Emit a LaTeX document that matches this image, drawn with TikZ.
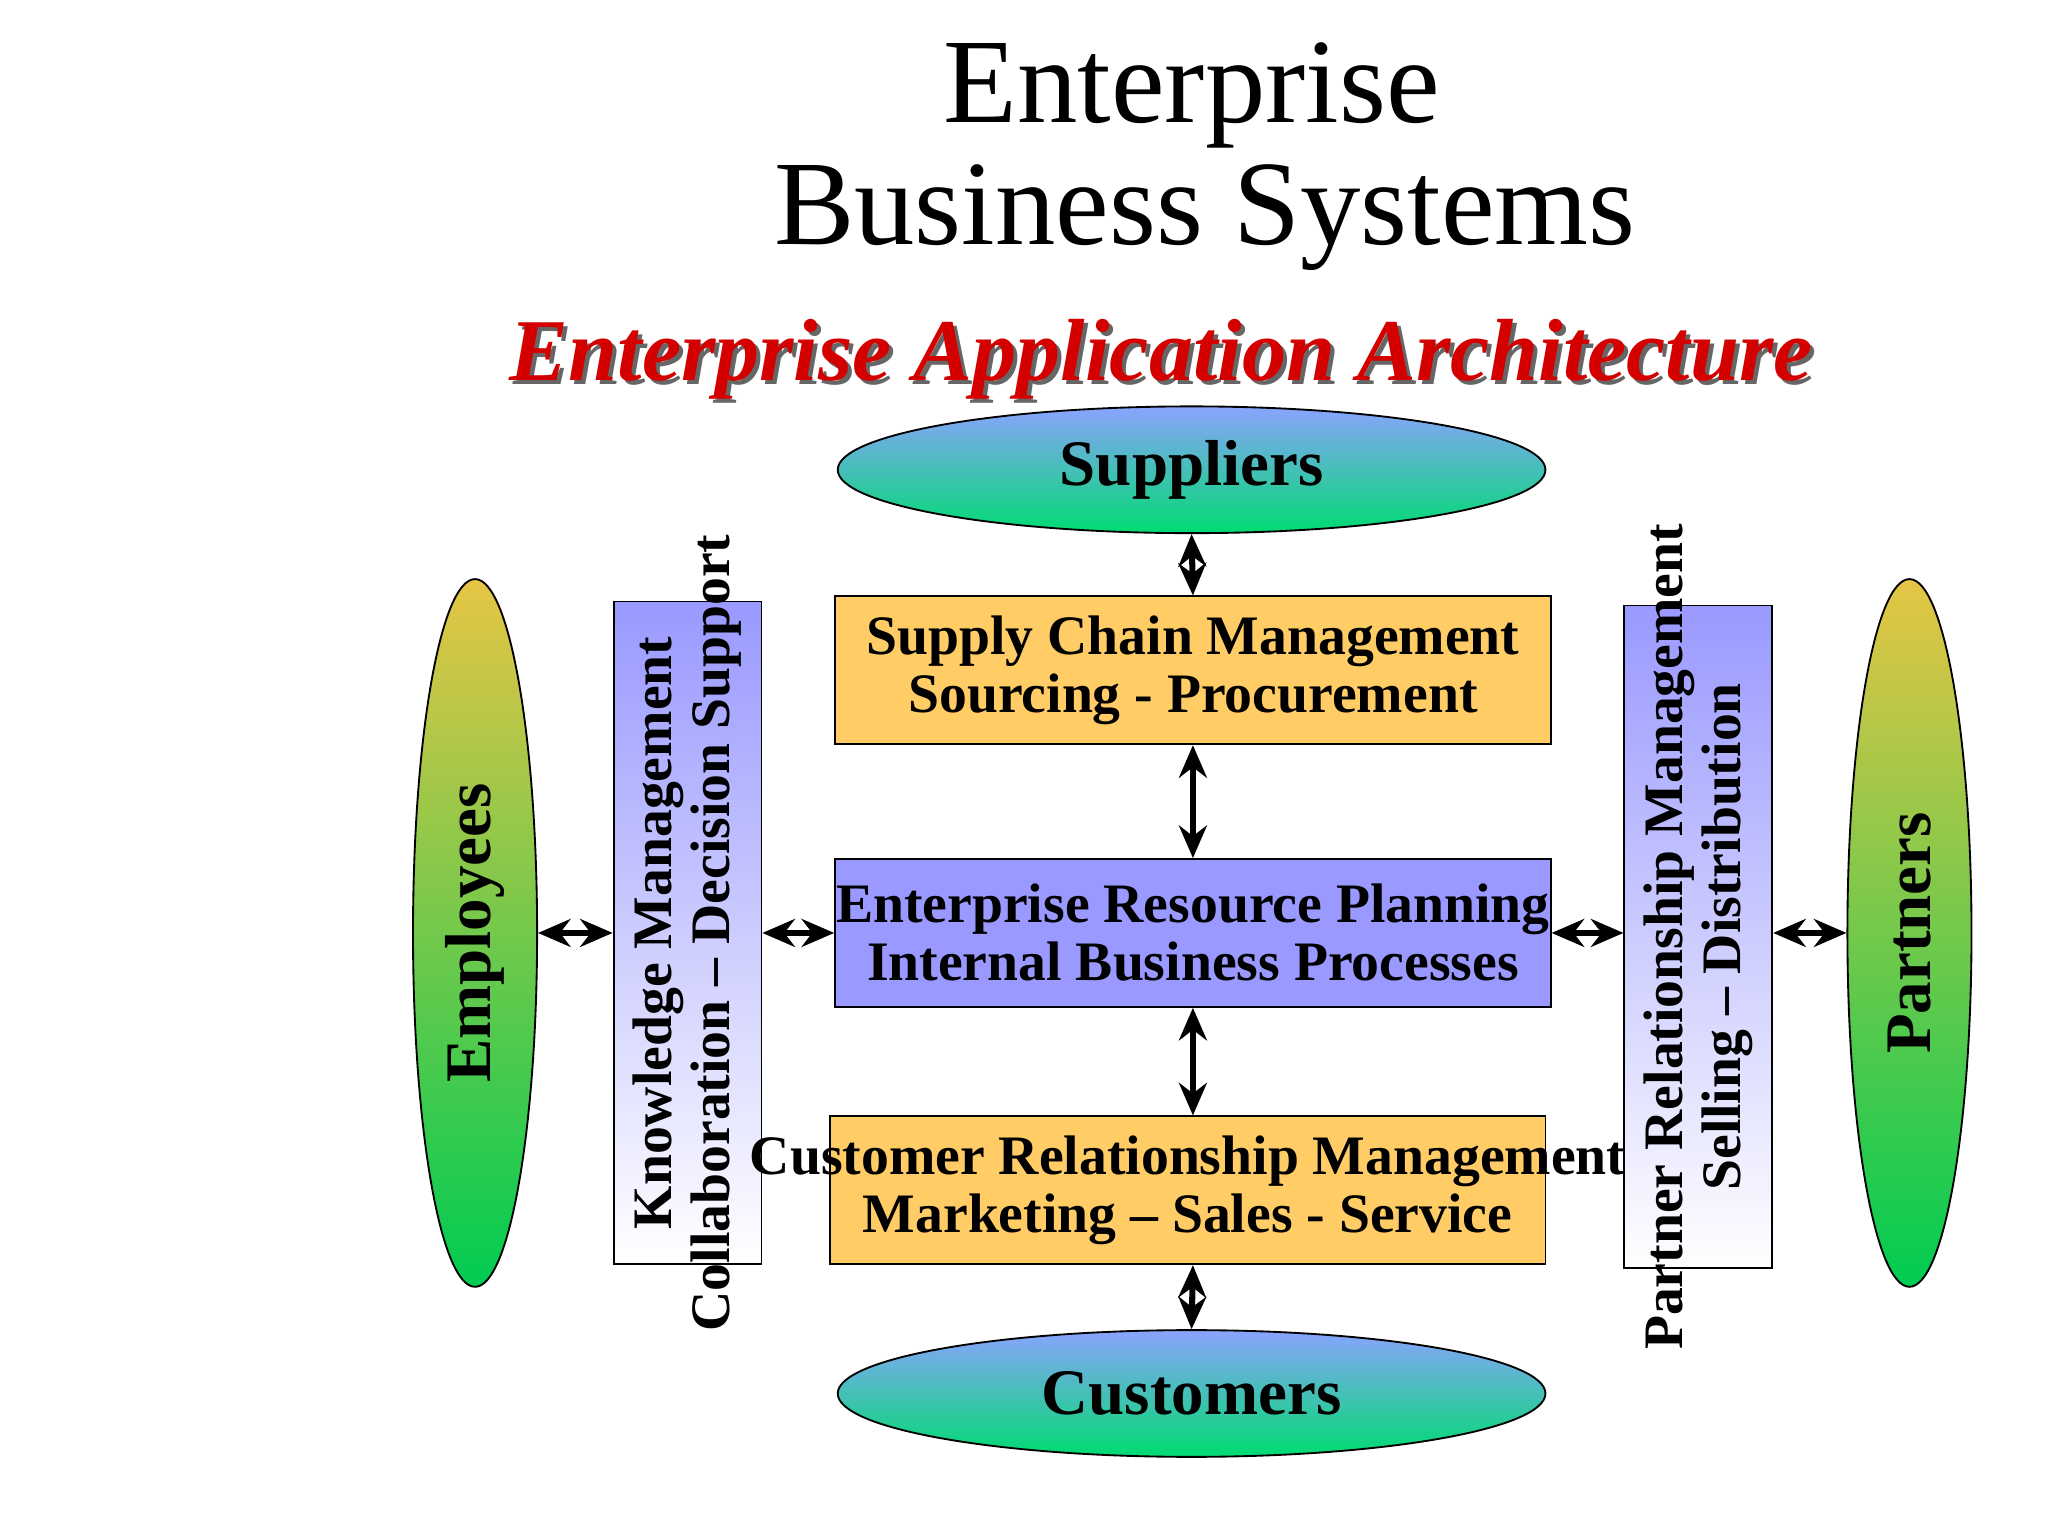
\documentclass[tikz,border=0pt]{standalone}
\usepackage{fontspec}
\setmainfont{Liberation Serif}
\usetikzlibrary{shapes.geometric,arrows.meta}
\definecolor{ored}{HTML}{D40000}
\definecolor{ybox}{HTML}{FFCC66}
\definecolor{bbox}{HTML}{9999FF}
\begin{document}
\begin{tikzpicture}[x=0.01cm,y=-0.01cm,
 hell/.style={ellipse,draw,thin,top color=bbox!90!cyan,bottom color=teal!40!green!70!cyan,minimum width=5.36cm,minimum height=0.96cm,font=\fontsize{14}{14}\selectfont\bfseries,inner sep=0},
 vell/.style={ellipse,draw,thin,top color=yellow!60!orange!70!white!90!black,bottom color=green!60!cyan!80!black,minimum width=0.94cm,minimum height=5.36cm,inner sep=0},
 vbox/.style={draw,thin,top color=bbox,bottom color=white,minimum width=1.12cm,minimum height=5.02cm,inner sep=0},
 hbox/.style={draw,thin,minimum width=5.42cm,minimum height=1.12cm,font=\fontsize{12}{12.5}\selectfont\bfseries,align=center,inner sep=0},
 arr/.style={{Stealth[length=7pt,width=6pt]}-{Stealth[length=7pt,width=6pt]},line width=1.3pt},
 rt/.style={rotate=90,font=\fontsize{12}{12.5}\selectfont\bfseries,align=center}]
\useasboundingbox (0,0) rectangle (1552,1164);
\fill[white] (0,0) rectangle (1552,1164);
\node (t1) at (903,72) {\fontsize{26}{26}\selectfont Enterprise};
\node (t2) at (913,165) {\fontsize{26}{26}\selectfont Business Systems};
\node[text=black!60] (st0) at (883,275) {\fontsize{19}{19}\selectfont\bfseries\itshape Enterprise Application Architecture};
\node[text=ored] (st) at (880,272) {\fontsize{19}{19}\selectfont\bfseries\itshape Enterprise Application Architecture};
\node[hell] (sup) at (903,356) {Suppliers};
\node[hell] (cus) at (903,1056) {Customers};
\node[vell] (emp) at (360,707) {};
\node[rotate=90,font=\fontsize{14}{14}\selectfont\bfseries] at (emp) {Employees};
\node[vell] (par) at (1447,707) {};
\node[rotate=90,font=\fontsize{14}{14}\selectfont\bfseries] at (par) {Partners};
\node[vbox] (km) at (521,707) {};
\node[rt] at (km) {Knowledge Management\\Collaboration -- Decision Support};
\node[vbox] (prm) at (1287,710) {};
\node[rt] at (prm) {Partner Relationship Management\\Selling -- Distribution};
\node[hbox,fill=ybox] (scm) at (904,508) {Supply Chain Management\\Sourcing - Procurement};
\node[hbox,fill=bbox] (erp) at (904,707) {Enterprise Resource Planning\\Internal Business Processes};
\node[hbox,fill=ybox] (crm) at (900,902) {};
\node[font=\fontsize{12}{12.5}\selectfont\bfseries,align=center] at (crm) {Customer Relationship Management\\Marketing -- Sales - Service};
\draw[arr] (sup.south) -- (scm.north);
\draw[arr] (scm.south) -- (erp.north);
\draw[arr] (erp.south) -- (erp.south|-crm.north);
\draw[arr] (erp.south|-crm.south) -- (cus.north);
\draw[arr] (emp.east) -- (km.west|-emp.east);
\draw[arr] (km.east|-erp.west) -- (erp.west);
\draw[arr] (erp.east) -- (prm.west|-erp.east);
\draw[arr] (prm.east|-par.west) -- (par.west);
\end{tikzpicture}
\end{document}
